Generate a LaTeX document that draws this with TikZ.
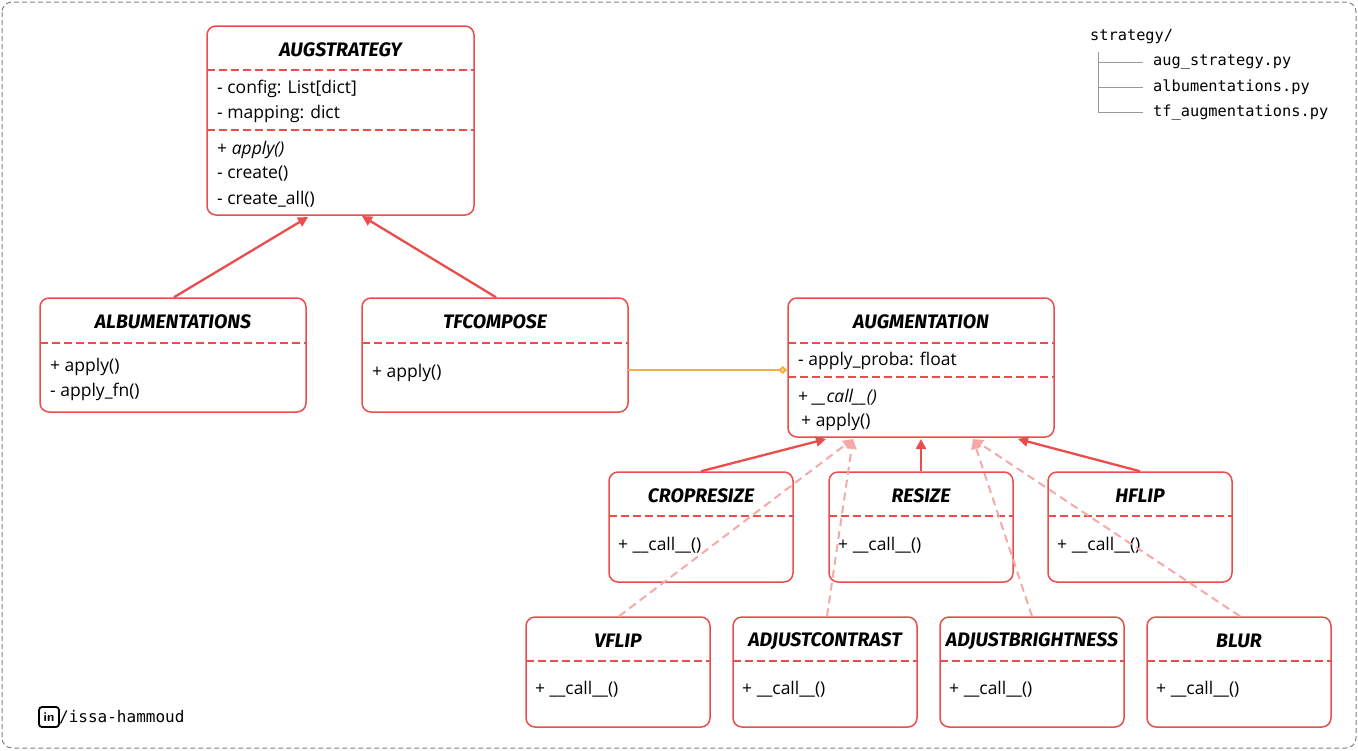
\documentclass[tikz,border=0pt]{standalone}
\usepackage{fontspec}
\setmainfont{Open Sans}
\newfontfamily\titlefont{Fira Sans}
\setmonofont{DejaVu Sans Mono}
\usetikzlibrary{arrows.meta}
\definecolor{rd}{HTML}{EB4C4C}
\definecolor{pk}{HTML}{F5A9A9}
\definecolor{og}{HTML}{F5B041}
\begin{document}
\begin{tikzpicture}[x=1pt,y=-1pt,
  box/.style={draw=rd,line width=1.5pt,rounded corners=9pt},
  sep/.style={draw=rd,line width=2pt,dash pattern=on 8pt off 4pt},
  ttl/.style={font=\titlefont\fontsize{19.5}{20}\selectfont\bfseries\itshape},
  txt/.style={font=\fontsize{17.5}{19}\selectfont,anchor=west,inner sep=0pt},
  inh/.style={draw=rd,line width=2.3pt,-{Triangle[length=10pt,width=10pt]}},
  real/.style={draw=pk,line width=2pt,dash pattern=on 8pt off 5pt,-{Triangle[length=10pt,width=10pt]}}]
\useasboundingbox (0,0) rectangle (1358,750);
\draw[gray,line width=1pt,dash pattern=on 5pt off 3pt,rounded corners=10pt] (2,2) rectangle (1356,748);
\newcommand{\cls}[6]{%
  \node[box,minimum width=#4pt-#2pt,minimum height=#5pt-#3pt,inner sep=0pt] (#1) at ({(#2+#4)/2},{(#3+#5)/2}) {};
  \node[ttl] (#1-t) at ({(#2+#4)/2},{#3+24}) {#6};}
% AugStrategy
\cls{aug}{207}{26}{474}{215}{AUGSTRATEGY}
\draw[sep] (207,70)--(474,70); \draw[sep] (207,130)--(474,130);
\node[txt] (a1) at (217,89) {- config: List[dict]};
\node[txt] (a2) at (217,114) {- mapping: dict};
\node[txt] (a3) at (217,150) {+ \textit{apply()}};
\node[txt] (a4) at (217,174) {- create()};
\node[txt] (a5) at (217,199) {- create\_all()};
% Albumentations
\cls{alb}{40}{298}{306}{412}{ALBUMENTATIONS}
\draw[sep] (40,343)--(306,343);
\node[txt] (b1) at (50,367) {+ apply()};
\node[txt] (b2) at (50,392) {- apply\_fn()};
% TFCompose
\cls{tfc}{362}{298}{628}{412}{TFCOMPOSE}
\draw[sep] (362,343)--(628,343);
\node[txt] (c1) at (372,373) {+ apply()};
% Augmentation
\cls{augm}{788}{298}{1054}{437}{AUGMENTATION}
\draw[sep] (788,343)--(1054,343); \draw[sep] (788,377)--(1054,377);
\node[txt] (d1) at (798,361) {- apply\_proba: float};
\node[txt] (d2) at (798,397) {+ \textit{\_\_call\_\_()}};
\node[txt] (d3) at (801,422) {+ apply()};
% row 1
\cls{crop}{609}{472}{793}{582}{CROPRESIZE}
\cls{res}{829}{472}{1013}{582}{RESIZE}
\cls{hf}{1048}{472}{1232}{582}{HFLIP}
\foreach \x/\n in {609/e1,829/e2,1048/e3}{
  \draw[sep] (\x,516)--(\x+184,516);
  \node[txt] (\n) at (\x+9,545) {+ \_\_call\_\_()};}
% row 2
\cls{vf}{526}{617}{710}{727}{VFLIP}
\cls{ac}{733}{617}{917}{727}{ADJUSTCONTRAST}
\cls{ab}{940}{617}{1124}{727}{ADJUSTBRIGHTNESS}
\cls{bl}{1147}{617}{1331}{727}{BLUR}
\foreach \x/\n in {526/f1,733/f2,940/f3,1147/f4}{
  \draw[sep] (\x,661)--(\x+184,661);
  \node[txt] (\n) at (\x+9,689) {+ \_\_call\_\_()};}
% connectors
\coordinate (t1) at (308,217); \coordinate (t2) at (362,216);
\draw[inh] (alb.north -| 174,0) -- (t1);
\draw[inh] (tfc.north -| 496,0) -- (t2);
\draw[og,line width=2.2pt,-{Diamond[open,length=9pt,width=8pt]}] (628,370) -- (augm.west |- 0,370);
\coordinate (u1) at (826,439); \coordinate (u2) at (921,439); \coordinate (u3) at (1018,439);
\coordinate (p1) at (853,439); \coordinate (p2) at (973,439);
\draw[inh] (crop.north -| 701,0) -- (u1);
\draw[inh] (res.north) -- (u2);
\draw[inh] (hf.north -| 1140,0) -- (u3);
\draw[real] (vf.north -| 619,0) -- (p1);
\draw[real] (ac.north -| 827,0) -- (p1);
\draw[real] (ab.north -| 1032,0) -- (p2);
\draw[real] (bl.north -| 1240,0) -- (p2);
% file tree
\begin{scope}[font=\ttfamily\fontsize{15.3}{16}\selectfont]
\node[anchor=west,inner sep=0pt] (s0) at (1090,37) {strategy/};
\node[anchor=west,inner sep=0pt] (s1) at (1153,62) {aug\_strategy.py};
\node[anchor=west,inner sep=0pt] (s2) at (1153,87) {albumentations.py};
\node[anchor=west,inner sep=0pt] (s3) at (1153,112) {tf\_augmentations.py};
\draw[gray!80,line width=1pt] (1098,52)--(1098,112)--(1143,112) (1098,62)--(1143,62) (1098,87)--(1143,87);
\end{scope}
% linkedin
\node[draw=black,line width=1.8pt,rounded corners=3pt,minimum size=20pt,inner sep=0pt,font=\sffamily\bfseries\fontsize{13}{13}\selectfont] (li) at (49,717) {in};
\node[anchor=west,inner sep=0pt,font=\ttfamily\fontsize{16}{16}\selectfont] (lt) at (59,717) {/issa-hammoud};
\end{tikzpicture}
\end{document}
